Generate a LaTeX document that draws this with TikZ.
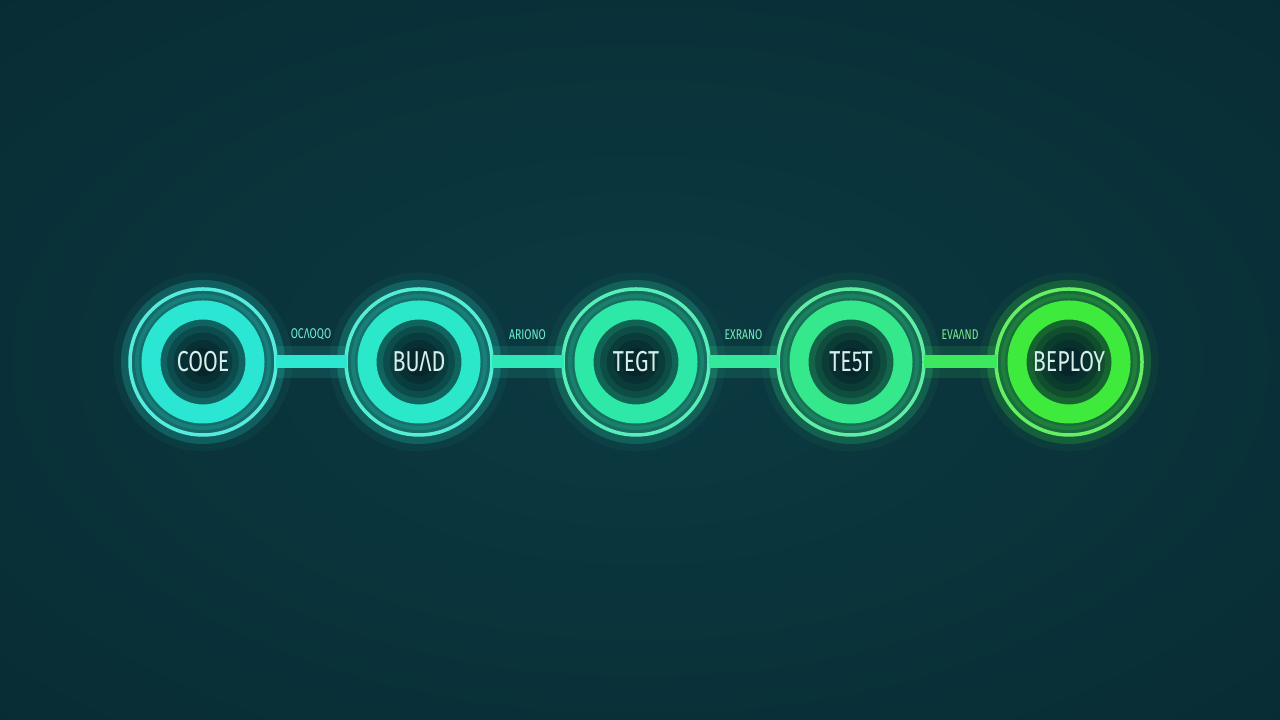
\documentclass[tikz,border=0pt]{standalone}
\usepackage{fontspec}
\setmainfont{Fira Sans}[FakeStretch=0.74]
\definecolor{bgmid}{HTML}{0C3A42}
\definecolor{bgedge}{HTML}{041D24}
\definecolor{disc}{HTML}{06262C}
\definecolor{cA}{HTML}{2CE6D4}
\definecolor{cB}{HTML}{2CE8CA}
\definecolor{cC}{HTML}{2EE8A8}
\definecolor{cD}{HTML}{36E88C}
\definecolor{cE}{HTML}{3EEB3C}
\definecolor{barA}{HTML}{2DE8D0}
\definecolor{barB}{HTML}{2EE8B8}
\definecolor{barC}{HTML}{34E89C}
\definecolor{barD}{HTML}{3CE85E}
\definecolor{txt}{HTML}{D8EEEA}
\begin{document}
\begin{tikzpicture}[
    stage/.style={circle, draw=#1, line width=1.9mm, minimum size=10.4mm, inner sep=0pt,
                  text=txt, font=\fontsize{8.2}{8.2}\selectfont},
    bar/.style={draw=#1, line width=1.3mm, shorten <=1.1mm, shorten >=1.1mm},
    barglow/.style={draw=#1, line width=3.2mm, opacity=0.12, shorten <=1.1mm, shorten >=1.1mm},
    tag/.style={text=#1, inner sep=0pt, above=1.6mm, font=\fontsize{4}{4}\selectfont}
  ]
  \useasboundingbox (0,0) rectangle (12.8,7.2);
  \begin{scope}
    \clip (0,0) rectangle (12.8,7.2);
    \shade[inner color=bgmid, outer color=bgedge] (-12.8,-7.2) rectangle (25.6,14.4);
  \end{scope}

  % stages
  \foreach \nm/\x/\col/\lbl in {code/2.03/cA/COOE, build/4.19/cB/BUΛD, tegt/6.36/cC/TEGT,
                                test/8.51/cD/TE5T, deploy/10.69/cE/BEPLOY} {
    \fill[disc] (\x,3.58) circle (6mm);
    \foreach \w/\o in {7.5/0.05, 6/0.07, 4.5/0.1, 3.2/0.15}
      \draw[\col, opacity=\o, line width=\w mm] (\x,3.58) circle (5.2mm);
    \draw[\col, opacity=0.14, line width=1.8mm] (\x,3.58) circle (7.3mm);
    \draw[\col!80!white, line width=0.35mm] (\x,3.58) circle (7.3mm);
    \node[stage=\col] (\nm) at (\x,3.58) {\lbl};
  }

  % connectors
  \foreach \a/\b/\col/\t in {code/build/barA/OCΛOQO, build/tegt/barB/ARIONO,
                             tegt/test/barC/EXRANO, test/deploy/barD/EVAΛND} {
    \draw[barglow=\col] (\a) -- (\b);
    \draw[bar=\col] (\a) -- node[tag=\col!70!white] {\t} (\b);
  }
\end{tikzpicture}
\end{document}
